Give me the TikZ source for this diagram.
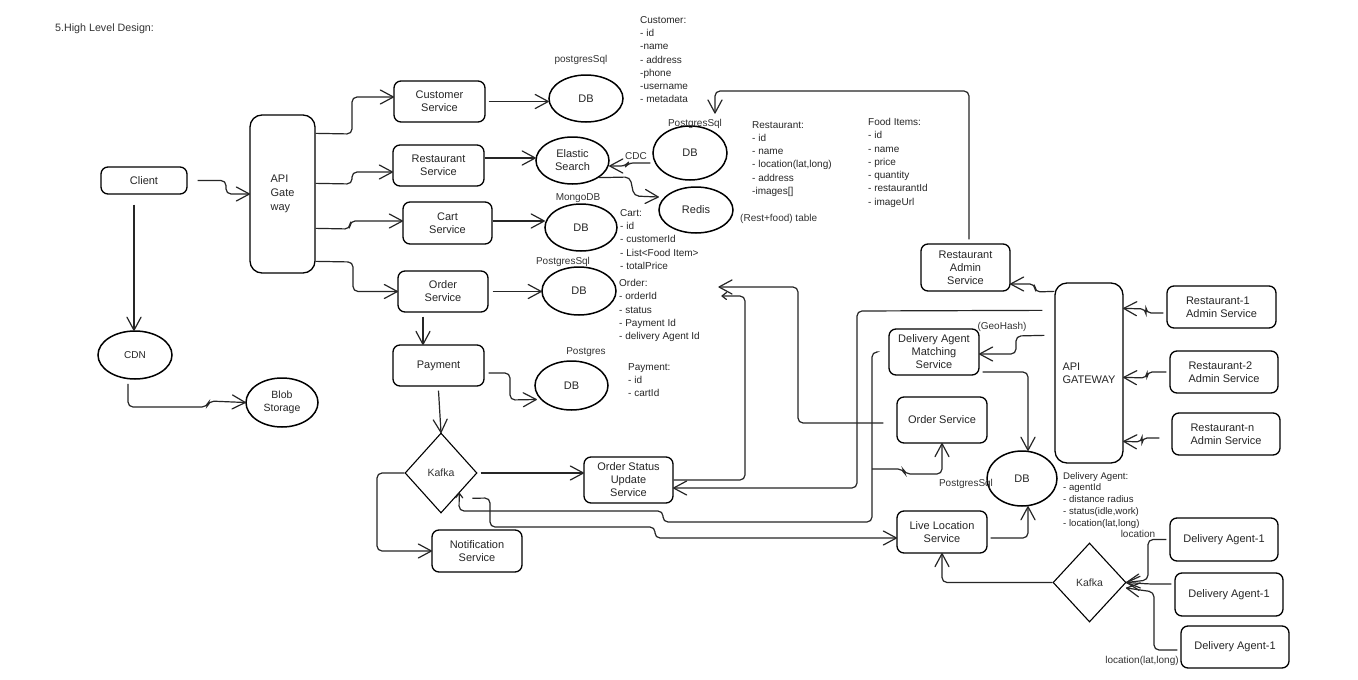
\documentclass[tikz,border=0pt]{standalone}
\usepackage{fontspec}
\setmainfont{Liberation Sans}
\usetikzlibrary{shapes.geometric,decorations.markings}
\begin{document}
\begin{tikzpicture}[x=1pt,y=-1pt,
  box/.style={draw=black, line width=1.3pt, rounded corners=7pt, align=center, inner sep=0pt, font=\fontsize{11}{13}\selectfont, text=black!85},
  sz/.style 2 args={minimum width=#1pt, minimum height=#2pt},
  db/.style={draw=black, ellipse, line width=1.5pt, inner sep=0pt, align=center, font=\fontsize{11}{13}\selectfont, text=black!85},
  kfk/.style={draw=black, diamond, line width=1.1pt, inner sep=0pt, font=\fontsize{10.5}{12}\selectfont, text=black!80},
  note/.style={anchor=north west, inner sep=0pt, align=left, font=\fontsize{10}{13.3}\selectfont, text=black!85},
  lbl/.style={inner sep=0pt, font=\fontsize{10}{12}\selectfont, text=black!80},
  line/.style={draw=black!85, line width=1.2pt, sharp corners},
  rc/.style={rounded corners=5pt},
  tipline/.style={draw=black!85, line width=1.2pt, sharp corners, line join=round, line cap=round, solid},
  conn/.style={line, postaction={decorate, decoration={markings, mark=at position 1 with {\draw[tipline] (-13pt,7pt) -- (0pt,0pt) -- (-13pt,-7pt);}}}},
  sconn/.style={line, postaction={decorate, decoration={markings, mark=at position 1 with {\draw[tipline] (-4.5pt,3.5pt) -- (0pt,0pt) -- (-4.5pt,-3.5pt);}}}}
]
\useasboundingbox (0,0) rectangle (1358,680);
\fill[white] (0,0) rectangle (1358,680);

% title
\node[lbl, anchor=west, font=\fontsize{10.7}{12}\selectfont] (title) at (55,29) {5.High Level Design:};

% left nodes
\node[box, sz={86}{27}] (client) at (144,180.5) {Client};
\node[box, sz={65}{158}, rounded corners=12pt, align=left, font=\fontsize{11}{14}\selectfont] (apigw) at (282.5,194) {API\\Gate\\way};
\node[box, sz={91}{41}] (cust) at (439.5,101.5) {Customer\\Service};
\node[box, sz={91}{41}] (rest) at (438.5,165.5) {Restaurant\\Service};
\node[box, sz={89}{42}] (cart) at (447.5,223) {Cart\\Service};
\node[box, sz={90}{41}] (ord) at (443,291.5) {Order\\Service};
\node[box, sz={91}{41}] (pay) at (438.5,365.5) {Payment};
\node[kfk, minimum width=72pt, minimum height=80pt] (kafka1) at (441,473) {Kafka};
\node[box, sz={90}{42}] (notif) at (477,551) {Notification\\Service};
\node[box, sz={89}{46}] (osu) at (628.5,480) {Order Status\\Update\\Service};

\node[db, minimum width=74pt, minimum height=48pt, font=\fontsize{10}{12}\selectfont] (cdn) at (135,355) {CDN};
\node[db, minimum width=72pt, minimum height=49pt, font=\fontsize{10.5}{13}\selectfont] (blob) at (282,402.5) {Blob\\Storage};

\node[db, minimum width=74pt, minimum height=47pt] (custdb) at (586,98.5) {DB};
\node[db, minimum width=73pt, minimum height=47pt] (elastic) at (572.5,160.5) {Elastic\\Search};
\node[db, minimum width=74pt, minimum height=54pt] (rdb) at (690,153) {DB};
\node[db, minimum width=74pt, minimum height=46pt] (redis) at (696,210) {Redis};
\node[db, minimum width=72pt, minimum height=47pt] (cartdb) at (581,227.5) {DB};
\node[db, minimum width=74pt, minimum height=48pt] (orddb) at (579,291) {DB};
\node[db, minimum width=73pt, minimum height=49pt] (paydb) at (571.5,385.5) {DB};

% right nodes
\node[box, sz={89}{47}] (radmin) at (965.5,267.5) {Restaurant\\Admin\\Service};
\node[box, sz={68}{180}, rounded corners=12pt, align=left, font=\fontsize{11}{13}\selectfont] (apigw2) at (1089,373) {API\\GATEWAY};
\node[box, sz={109}{42}, align=left] (r1) at (1221.5,307) {Restaurant-1\\Admin Service};
\node[box, sz={108}{42}, align=left] (r2) at (1224,372) {Restaurant-2\\Admin Service};
\node[box, sz={108}{42}, align=left] (rn) at (1226,434) {Restaurant-n\\Admin Service};
\node[box, sz={90}{46}] (match) at (934,352) {Delivery Agent\\Matching\\Service};
\node[box, sz={90}{46}] (ordsvc2) at (942,420) {Order Service};
\node[db, minimum width=70pt, minimum height=55pt] (dbr) at (1022,478.5) {DB};
\node[box, sz={90}{42}] (live) at (942,532) {Live Location\\Service};
\node[kfk, minimum width=73pt, minimum height=79pt] (kafka2) at (1089.5,582.5) {Kafka};
\node[box, sz={108}{43}] (da1) at (1224,539.5) {Delivery Agent-1};
\node[box, sz={108}{43}] (da2) at (1229,594.5) {Delivery Agent-1};
\node[box, sz={108}{42}] (da3) at (1235,647) {Delivery Agent-1};

% small labels
\node[lbl] (l1) at (581,60) {postgresSql};
\node[lbl] (l2) at (695,124) {PostgresSql};
\node[lbl] (l3) at (578,198) {MongoDB};
\node[lbl] (l4) at (563,262) {PostgresSql};
\node[lbl] (l5) at (586,352) {Postgres};
\node[lbl] (l6) at (1002,327) {(GeoHash)};
\node[lbl] (l7) at (966,484) {PostgresSql};
\node[lbl] (l8) at (1138,534) {location};
\node[lbl] (l9) at (1142,661) {location(lat,long)};
\node[lbl] (cdc) at (636,156) {CDC};
\node[lbl, anchor=west] (rf) at (740,219) {(Rest+food) table};

% notes
\node[note] (ncust) at (640,16) {Customer:\\- id\\-name\\- address\\-phone\\-username\\- metadata};
\node[note] (nrest) at (752,121) {Restaurant:\\- id\\- name\\- location(lat,long)\\- address\\-images[]};
\node[note] (nfood) at (868,118) {Food Items:\\- id\\- name\\- price\\- quantity\\- restaurantId\\- imageUrl};
\node[note] (ncart) at (620,209) {Cart:\\- id\\- customerId\\- List<Food Item>\\- totalPrice};
\node[note] (nord) at (619,279) {Order:\\- orderId\\- status\\- Payment Id\\- delivery Agent Id};
\node[note] (npay) at (628,363) {Payment:\\- id\\- cartId};
\node[note, font=\fontsize{9.6}{11.8}\selectfont] (nda) at (1063,472) {Delivery Agent:\\- agentId\\- distance radius\\- status(idle,work)\\- location(lat,long)};

% free ends
\coordinate (ordnote1) at (722,296);
\coordinate (ordnote2) at (719,287);
\coordinate (rdbtop) at (715,113);
\coordinate (jF) at (872,469);

% connectors left
\draw[conn] ([xshift=10pt]client.east) [rc] -- (226,180.5) -- (226,194) -- (apigw.west);
\draw[conn] ([xshift=-10pt,yshift=-10pt]client.south) -- ([xshift=-1pt]cdn.north);
\draw[conn] ([xshift=-7pt,yshift=-4pt]cdn.south) [rc] -- (128,407) -- (207,407) -- (209,401) -- (blob.west);
\draw[conn] ([yshift=-19pt]apigw.north east) [rc] -- (352,134) -- (352,97) -- ([yshift=4.5pt]cust.west);
\draw[conn] ([yshift=-69pt]apigw.north east) [rc] -- (352,184) -- (352,172) -- ([yshift=-6.5pt]rest.west);
\draw[conn] ([yshift=-114pt]apigw.north east) [rc] -- (350,229) -- (350,221) -- ([yshift=2pt]cart.west);
\draw[conn] ([yshift=-147pt]apigw.north east) [rc] -- (353,262) -- (353,291.5) -- (ord.west);
\draw[conn] ([xshift=3pt]cust.east) -- (cust.east -| custdb.west);
\draw[conn] ([yshift=7.5pt]rest.east) -- ([yshift=2.5pt]elastic.west);
\draw[conn] ([yshift=2pt]cart.east) -- ([yshift=2pt]cart.east -| cartdb.west);
\draw[conn] ([xshift=4pt]ord.east) -- (ord.east -| orddb.west);
\draw[conn] ([xshift=-20pt,yshift=-4pt]ord.south) -- ([xshift=-20pt]ord.south |- pay.north);
\draw[conn] ([xshift=4pt,yshift=-7.5pt]pay.east) [rc] -- (510,373) -- (510,400) -- ([xshift=2pt,yshift=-14pt]paydb.west);
\draw[conn] ([yshift=-4pt]pay.south) -- (kafka1.north);
\draw[conn] ([xshift=3pt]kafka1.east) -- (kafka1.east -| osu.west);
\draw[conn] (kafka1.west) [rc] -- (377,473) -- (377,551) -- (notif.west);
\draw[conn] ([xshift=-2pt,yshift=-10pt]rdb.west) [rc] -- (628,163) -- (626,166) -- ([yshift=-5.5pt]elastic.east);
\draw[conn] (elastic.south east) [rc] -- (630,177) -- (634,196) -- ([yshift=13pt]redis.west);

% connectors middle
\draw[sconn] (osu.east) [rc] -- (745,480) -- (745,296) -- (ordnote1);
\draw[conn] ([xshift=-13pt,yshift=-3pt]ordsvc2.west) [rc] -- (798,423) -- (798,287) -- (ordnote2);
\draw[conn] ([xshift=-12pt,yshift=-28pt]apigw2.north west) [rc] -- (857,311) -- (857,488) -- ([yshift=-8pt]osu.east);
\draw[sconn] ([xshift=-12pt]match.west) [rc] -- (872,352) -- (872,522) -- (663,522) -- (663,511) -- (459,511) -- (kafka1.south east);
\draw[conn] (jF) [rc] -- (903,469) -- (905,474) -- (942,474) -- (ordsvc2.south);
\draw[conn] ([xshift=13pt,yshift=-5pt]kafka1.south east) [rc] -- (490,498) -- (490,527) -- (655,527) -- (655,538) -- ([yshift=-6pt]live.west);

% connectors right
\draw[conn] ([xshift=3pt,yshift=-6pt]live.east) [rc] -- (1028,538) -- ([xshift=6pt]dbr.south);
\draw[conn] ([xshift=3pt,yshift=-20pt]match.east) [rc] -- (1028,372) -- ([xshift=6pt]dbr.north);
\draw[conn] ([xshift=-10pt,yshift=-53pt]apigw2.north west) [rc] -- (1016,336) -- (1016,354) -- ([yshift=-2pt]match.east);
\draw[conn] ([yshift=-9pt]apigw2.north west) [rc] -- (1035,292) -- (1035,284) -- ([yshift=-16.5pt]radmin.east);
\draw[conn] ([xshift=3.5pt,yshift=4pt]radmin.north) [rc] -- (969,91) -- (715,91) -- (rdbtop);
\draw[conn] ([xshift=-3pt,yshift=-6pt]r1.west) [rc] -- (1146,313) -- (1146,309) -- ([yshift=-26pt]apigw2.north east);
\draw[conn] ([xshift=-3pt]r2.west) [rc] -- (1147,372) -- (1147,378) -- ([yshift=-95pt]apigw2.north east);
\draw[conn] ([xshift=-12pt,yshift=-4pt]rn.west) [rc] -- (1142,438) -- (1142,442) -- ([yshift=-159pt]apigw2.north east);
\draw[conn] (kafka2.west) [rc] -- (942,582.5) -- (live.south);
\draw[conn] ([xshift=-3pt]da1.west) [rc] -- (1148,539.5) -- (1148,580) -- (kafka2.east);
\draw[conn] ([xshift=-3pt,yshift=10.5pt]da2.west) [rc] -- (1150,584) -- (kafka2.east);
\draw[conn] ([xshift=-3pt,yshift=-3pt]da3.west) [rc] -- (1154,650) -- (1154,592) -- ([yshift=-5.5pt]kafka2.east);
\end{tikzpicture}
\end{document}
